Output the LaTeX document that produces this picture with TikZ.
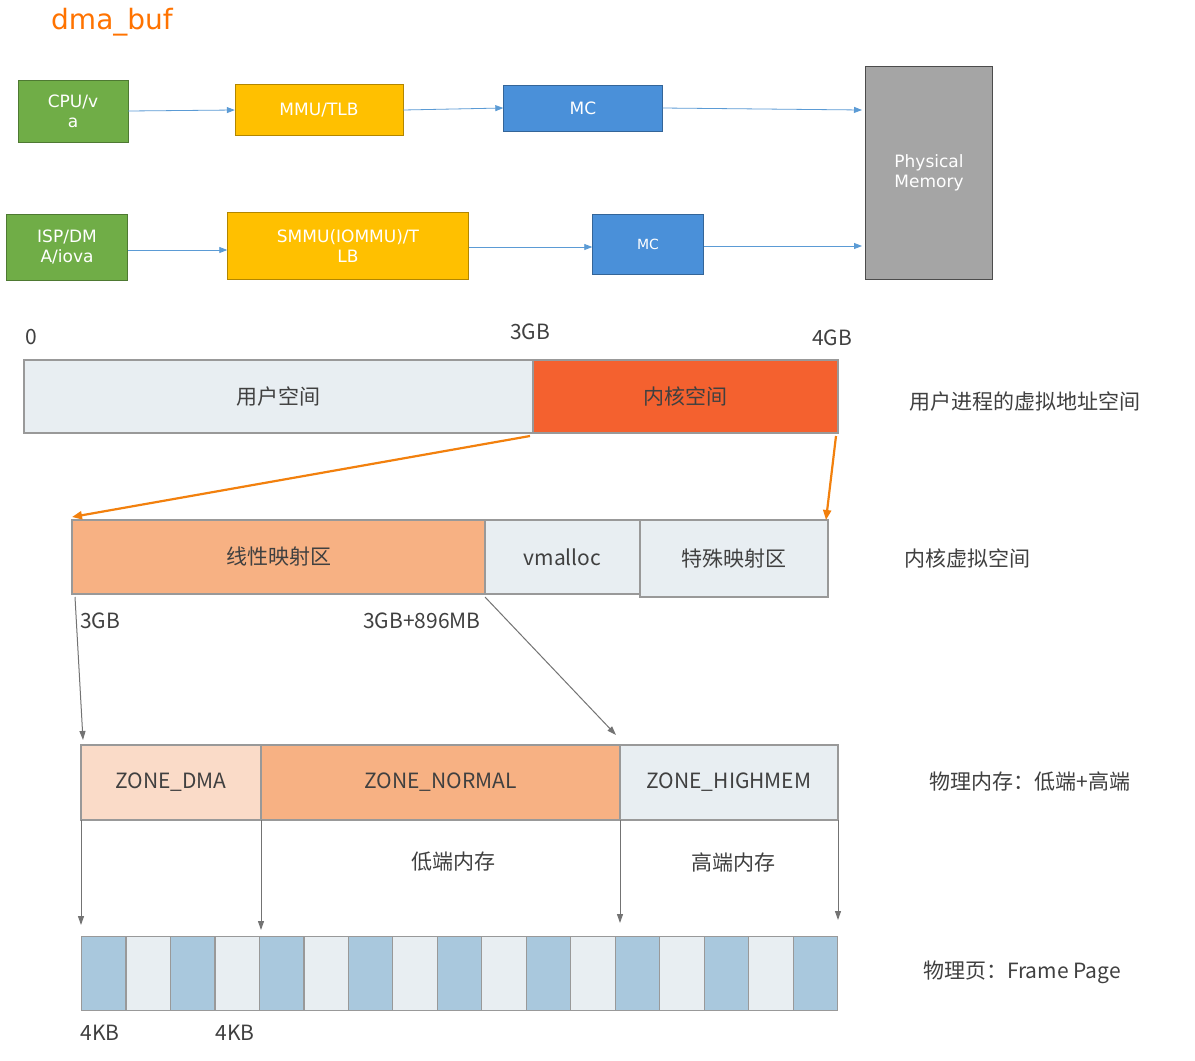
\documentclass[tikz,border=0pt]{standalone}
\usepackage{fontspec}
\setmainfont{DejaVu Sans}
\newfontfamily\cjk{Noto Sans CJK SC}
\usetikzlibrary{arrows.meta}
\definecolor{gr}{HTML}{70AD47}\definecolor{ye}{HTML}{FFC000}\definecolor{bl}{HTML}{4A90D9}
\definecolor{pm}{HTML}{A5A5A5}\definecolor{lt}{HTML}{E8EEF2}\definecolor{ks}{HTML}{F4612F}
\definecolor{lo}{HTML}{F7B183}\definecolor{po}{HTML}{FADBC8}\definecolor{fb}{HTML}{A9C8DD}
\definecolor{ln}{HTML}{5B9BD5}
\begin{document}
\begin{tikzpicture}[x=1pt,y=-1pt,
 tb/.style={draw=#1!70!black,fill=#1,text=white,align=center,font=\fontsize{17}{20}\selectfont,inner sep=0},
 ba/.style={-{Triangle[length=8pt,width=6pt]},ln,line width=0.8pt},
 zb/.style={draw=gray!80,line width=1.2pt,font=\cjk\fontsize{21}{24}\selectfont,text=black!75},
 lb/.style={font=\cjk\fontsize{21}{24}\selectfont,text=black!75},
 ga/.style={-{Triangle[length=9pt,width=6pt]},gray!90!black,line width=1pt},
 oa/.style={-{Triangle[length=10pt,width=8pt]},orange!80!brown,line width=2.2pt}]
\useasboundingbox (0,0) rectangle (1195,1061);
\fill[white] (0,0) rectangle (1195,1061);
\node[text=orange!90!red,font=\fontsize{28}{32}\selectfont] (t) at (112,22) {dma\_buf};
\node[tb=gr,minimum width=110,minimum height=62] (cpu) at (73,111) {CPU/v\\a};
\node[tb=ye,minimum width=168,minimum height=51] (mmu) at (319,110) {MMU/TLB};
\node[tb=bl,minimum width=159,minimum height=46] (mc1) at (583,108) {MC};
\node[tb=pm,minimum width=127,minimum height=213,draw=gray!60!black] (pm) at (929,173) {Physical\\Memory};
\node[tb=gr,minimum width=121,minimum height=66] (isp) at (67,247) {ISP/DM\\A/iova};
\node[tb=ye,minimum width=241,minimum height=67] (smmu) at (348,246) {SMMU(IOMMU)/T\\LB};
\node[tb=bl,minimum width=111,minimum height=60,font=\fontsize{14}{16}\selectfont] (mc2) at (648,244) {MC};
\coordinate (p1) at (862,110); \coordinate (p2) at (862,246);
\draw[ba] (cpu.east) -- (mmu.west);
\draw[ba] (mmu.east) -- (mc1.west);
\draw[ba] (mc1.east) -- (p1);
\draw[ba] (isp.east|-0,250) -- (smmu.west|-0,250);
\draw[ba] (smmu.east|-0,247) -- (mc2.west|-0,247);
\draw[ba] (mc2.east|-0,246) -- (p2);
% row 1
\node[lb] (l0) at (31,337) {0};
\node[lb] (l3) at (530,332) {3GB};
\node[lb] (l4) at (832,338) {4GB};
\node[zb,fill=lt,minimum width=509,minimum height=73] (us) at (278.5,396.5) {用户空间};
\node[zb,fill=ks,minimum width=305,minimum height=73] (ks) at (685.5,396.5) {内核空间};
\node[lb] (r1) at (1025,402) {用户进程的虚拟地址空间};
% row 2
\node[zb,fill=lo,minimum width=413,minimum height=74] (lin) at (278.5,557) {线性映射区};
\node[zb,fill=lt,minimum width=155,minimum height=74] (vm) at (562.5,557) {vmalloc};
\node[zb,fill=lt,minimum width=188,minimum height=77] (sp) at (734,558.5) {特殊映射区};
\node[lb] (r2) at (967,558) {内核虚拟空间};
\coordinate (a1) at (530,436); \coordinate (a2) at (72,517);
\coordinate (a3) at (836,436); \coordinate (a4) at (826,520);
\draw[oa] (a1) -- (a2); \draw[oa] (a3) -- (a4);
\node[lb] (g3) at (100,621) {3GB};
\node[lb] (g896) at (422,621) {3GB+896MB};
\coordinate (b1) at (75,597); \coordinate (b2) at (83,740);
\coordinate (b3) at (485,597); \coordinate (b4) at (616,735);
\draw[ga] (b1) -- (b2); \draw[ga] (b3) -- (b4);
% row 3
\node[zb,fill=po,minimum width=180,minimum height=75] (zd) at (171,782.5) {ZONE\_DMA};
\node[zb,fill=lo,minimum width=359,minimum height=75] (zn) at (440.5,782.5) {ZONE\_NORMAL};
\node[zb,fill=lt,minimum width=218,minimum height=75] (zh) at (729,782.5) {ZONE\_HIGHMEM};
\node[lb] (r3) at (1030,782) {物理内存：低端+高端};
\node[lb] (lo1) at (453,862) {低端内存};
\node[lb] (hi1) at (733,862) {高端内存};
\foreach \x/\e [count=\i] in {81/925,261/930,620/923,838/920}{
 \coordinate (c\i) at (\x,820); \coordinate (d\i) at (\x,\e);
 \draw[ga] (c\i) -- (d\i);}
% row 4
\foreach \i in {0,...,16}{
 \pgfmathsetmacro\xa{81+\i*44.47}
 \pgfmathtruncatemacro\odd{mod(\i,2)}
 \ifnum\odd=0 \def\fc{fb}\else\def\fc{lt}\fi
 \node[draw=gray!80,line width=1.2pt,fill=\fc,minimum width=44.47,minimum height=74,inner sep=0,anchor=north west] (f\i) at (\xa,936) {};}
\node[lb] (r4) at (1022,972) {物理页：Frame Page};
\node[lb] (k1) at (100,1033) {4KB};
\node[lb] (k2) at (235,1033) {4KB};
\end{tikzpicture}
\end{document}
